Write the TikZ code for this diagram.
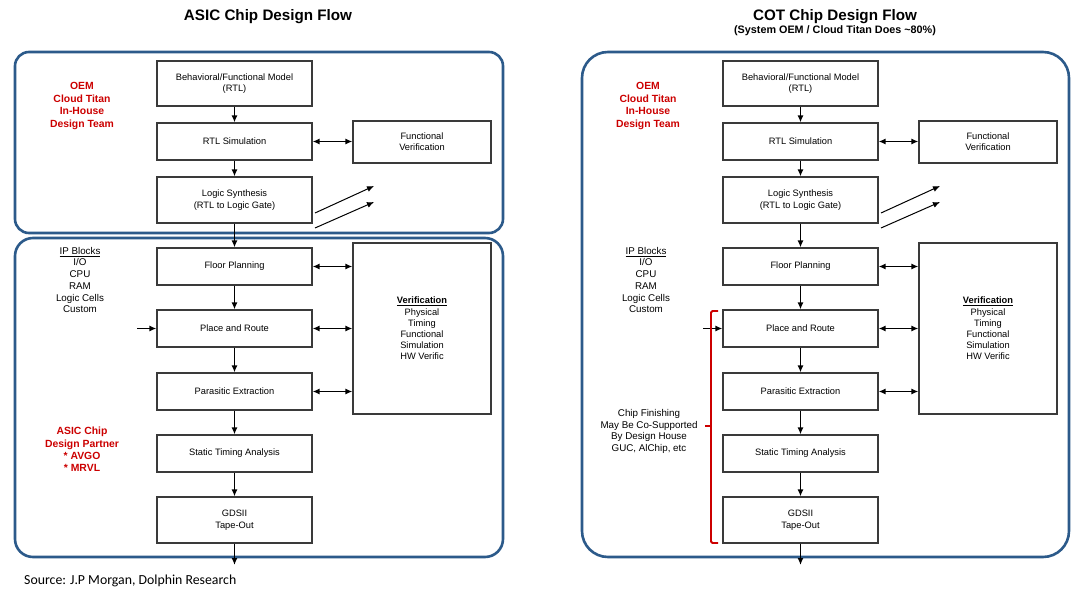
\documentclass[tikz,border=0pt]{standalone}
\usepackage{fontspec}
\setmainfont{Liberation Sans}
\newfontfamily\srcfont{Carlito}
\usetikzlibrary{arrows.meta,calc}
\definecolor{panelblue}{HTML}{2C5A8A}
\definecolor{oemred}{HTML}{CC0000}
\definecolor{boxgray}{HTML}{3A3A3A}
\begin{document}
\begin{tikzpicture}[x=1pt,y=-1pt,
  panel/.style={draw=panelblue, line width=2.6pt},
  flowbox/.style={draw=boxgray, line width=1.2pt, minimum width=155pt, align=center, inner sep=0pt,
    font=\fontsize{9.3}{11.8}\selectfont},
  sidebox/.style={draw=boxgray, line width=1.2pt, minimum width=138pt, align=center, inner sep=0pt,
    font=\fontsize{9.3}{11.2}\selectfont},
  redlabel/.style={text=oemred, align=center, inner sep=0pt, font=\bfseries\fontsize{10.4}{12.4}\selectfont},
  blklabel/.style={align=center, inner sep=0pt, font=\fontsize{9.8}{11.7}\selectfont},
  arr/.style={-{Latex[length=7pt,width=6pt]}, line width=1.3pt},
  dbl/.style={{Latex[length=7pt,width=6pt]}-{Latex[length=7pt,width=6pt]}, line width=1.3pt},
  thin arr/.style={-{Latex[length=7pt,width=6pt]}, line width=1pt}
]
\useasboundingbox (0,0) rectangle (1080,596);
\fill[white] (0,0) rectangle (1080,596);

% titles
\node[anchor=base, inner sep=0pt, font=\bfseries\fontsize{15.2}{18}\selectfont] (t1) at (268,20.5) {ASIC Chip Design Flow};
\node[anchor=base, inner sep=0pt, font=\bfseries\fontsize{15.2}{18}\selectfont] (t2) at (835,20.5) {COT Chip Design Flow};
\node[anchor=base, inner sep=0pt, font=\bfseries\fontsize{10.8}{13}\selectfont] (t2s) at (835,33.5) {(System OEM / Cloud Titan Does \textasciitilde80\%)};

% panels
\draw[panel, rounded corners=14pt] (15,52) rectangle (503,233);
\draw[panel, rounded corners=18pt] (15,238) rectangle (503,557);
\draw[panel, rounded corners=26pt] (582,52) rectangle (1069,557);

\foreach \p/\dx in {L/0,R/566}{
\begin{scope}[xshift=\dx pt]
  \node[flowbox, minimum height=45pt] (\p-beh) at (234.5,83.5) {Behavioral/Functional Model\\(RTL)};
  \node[flowbox, minimum height=37pt] (\p-rtl) at (234.5,141.5) {RTL Simulation};
  \node[flowbox, minimum height=46pt] (\p-syn) at (234.5,200) {Logic Synthesis\\(RTL to Logic Gate)};
  \node[flowbox, minimum height=37pt] (\p-fp) at (234.5,266.5) {Floor Planning};
  \node[flowbox, minimum height=37pt] (\p-pr) at (234.5,328.5) {Place and Route};
  \node[flowbox, minimum height=37pt] (\p-pe) at (234.5,391.5) {Parasitic Extraction};
  \node[flowbox, minimum height=37pt] (\p-sta) at (234.5,453.5) {Static Timing Analysis};
  \node[flowbox, minimum height=46pt] (\p-gds) at (234.5,520) {GDSII\\Tape-Out};
  \node[sidebox, minimum height=42pt] (\p-fv) at (422,142) {Functional\\Verification};
  \node[sidebox, minimum height=171pt] (\p-ver) at (422,328.5) {\textbf{\underline{Verification}}\\Physical\\Timing\\Functional\\Simulation\\HW Verific};

  \node[redlabel] (\p-oem) at (82,106) {OEM\\Cloud Titan\\In-House\\Design Team};
  \node[blklabel] (\p-ip) at (80,280) {\underline{IP Blocks}\\I/O\\CPU\\RAM\\Logic Cells\\Custom};

  \coordinate (\p-d1a) at (315,213);
  \coordinate (\p-d1b) at (374,186);
  \coordinate (\p-d2a) at (315,228);
  \coordinate (\p-d2b) at (374,202);
  \coordinate (\p-in) at (137,328.5);
  \coordinate (\p-out) at (234.5,565);
\end{scope}
  \draw[arr] (\p-beh) -- (\p-rtl);
  \draw[arr] (\p-rtl) -- (\p-syn);
  \draw[arr] (\p-syn) -- (\p-fp);
  \draw[arr] (\p-fp) -- (\p-pr);
  \draw[arr] (\p-pr) -- (\p-pe);
  \draw[arr] (\p-pe) -- (\p-sta);
  \draw[arr] (\p-sta) -- (\p-gds);
  \draw[arr] (\p-gds) -- (\p-out);
  \draw[dbl] (\p-rtl.east) -- (\p-rtl.east -| \p-fv.west);
  \draw[dbl] (\p-fp.east) -- (\p-fp.east -| \p-ver.west);
  \draw[dbl] (\p-pr.east) -- (\p-pr.east -| \p-ver.west);
  \draw[dbl] (\p-pe.east) -- (\p-pe.east -| \p-ver.west);
  \draw[thin arr] (\p-d1a) -- (\p-d1b);
  \draw[thin arr] (\p-d2a) -- (\p-d2b);
}
\draw[arr] (L-in) -- (L-pr.west);
\draw[arr] (R-in) -- (R-pr.west);

% left red partner label
\node[redlabel] (partner) at (82,449.5) {ASIC Chip\\Design Partner\\* AVGO\\* MRVL};

% right bracket and label
\draw[oemred, line width=1.8pt, rounded corners=1.5pt] (718,311) -- (711,311) -- (711,543) -- (718,543);
\draw[oemred, line width=1.8pt] (711,426) -- (705,426);
\node[blklabel] (finish) at (649,431.5) {Chip Finishing\\May Be Co-Supported\\By Design House\\GUC, AlChip, etc};

% source
\node[anchor=base west, inner sep=0pt, font=\srcfont\fontsize{13.8}{16}\selectfont] (src) at (24,584) {Source: J.P Morgan, Dolphin Research};
\end{tikzpicture}
\end{document}
